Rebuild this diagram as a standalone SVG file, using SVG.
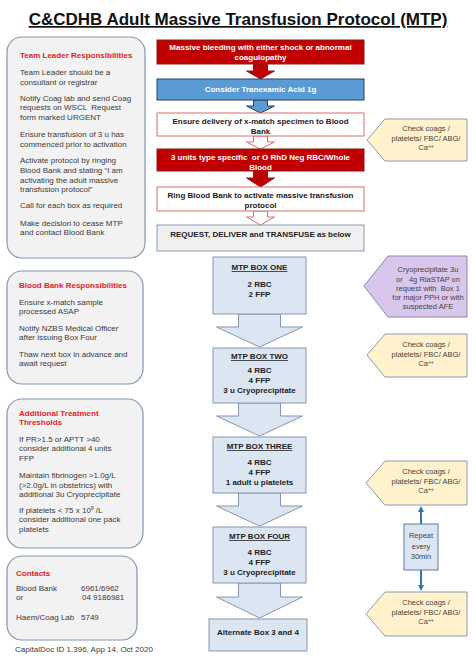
<svg xmlns="http://www.w3.org/2000/svg" width="474" height="656" viewBox="0 0 474 656">
<defs>
<style>
text{font-family:"Liberation Sans",Arial,sans-serif;white-space:pre;}
.title{font-size:17px;font-weight:bold;fill:#111;text-decoration:underline;}
.panel{fill:#f2f2f2;stroke:#8497b0;stroke-width:1.2;}
.ph{font-size:8px;font-weight:bold;fill:#e8202a;}
.pt{font-size:8px;fill:#3a3a3a;}
.red{fill:#c00000;stroke:#8b1a1a;stroke-width:1;}
.blue{fill:#5b9bd5;stroke:#2a3f66;stroke-width:1;}
.wred{fill:#ffffff;stroke:#e06a6a;stroke-width:1;}
.grey{fill:#efefef;stroke:#8a99b0;stroke-width:1;}
.wt{font-size:8px;font-weight:bold;fill:#ffffff;text-anchor:middle;}
.dt{font-size:8px;font-weight:bold;fill:#222;text-anchor:middle;}
.mtp{fill:#dce6f2;stroke:#8496b0;stroke-width:1;}
.mh{font-size:8px;font-weight:bold;fill:#222;text-anchor:middle;text-decoration:underline;}
.chk{fill:#fff2cc;stroke:#8c9bb0;stroke-width:1;}
.pur{fill:#d9c6ec;stroke:#8e86b0;stroke-width:1;}
.ct{font-size:7.5px;fill:#444;text-anchor:middle;}
.rep{fill:#dce6f2;stroke:#5b7ba8;stroke-width:1;}
.blk{stroke:#2e75b6;stroke-width:2;fill:none;}
</style>
<marker id="ah" viewBox="0 0 10 10" refX="5" refY="5" markerWidth="3" markerHeight="3" orient="auto-start-reverse">
<path d="M0,0 L10,5 L0,10 z" fill="#2e75b6"/>
</marker>
</defs>
<rect width="474" height="656" fill="#ffffff"/>
<text class="title" x="238" y="25" text-anchor="middle">C&amp;CDHB Adult Massive Transfusion Protocol (MTP)</text>

<g id="team-leader">
<rect class="panel" x="7" y="37" width="138" height="221" rx="15"/>
<text class="ph" x="20" y="58">Team Leader Responsibilities</text>
<text class="pt" x="20" y="75">Team Leader should be a</text>
<text class="pt" x="20" y="85">consultant or registrar</text>
<text class="pt" x="20" y="101">Notify Coag lab and send Coag</text>
<text class="pt" x="20" y="110" xml:space="preserve">requests on WSCL  Request</text>
<text class="pt" x="20" y="120">form marked URGENT</text>
<text class="pt" x="20" y="137">Ensure transfusion of 3 u has</text>
<text class="pt" x="20" y="147">commenced prior to activation</text>
<text class="pt" x="20" y="163">Activate protocol by ringing</text>
<text class="pt" x="20" y="173">Blood Bank and stating “I am</text>
<text class="pt" x="20" y="183">activating the adult massive</text>
<text class="pt" x="20" y="192">transfusion protocol”</text>
<text class="pt" x="20" y="208">Call for each box as required</text>
<text class="pt" x="20" y="226">Make decision to cease MTP</text>
<text class="pt" x="20" y="235">and contact Blood Bank</text>
</g>

<g id="blood-bank">
<rect class="panel" x="7" y="271" width="136" height="113" rx="15"/>
<text class="ph" x="19" y="288">Blood Bank Responsibilities</text>
<text class="pt" x="19" y="305">Ensure x-match sample</text>
<text class="pt" x="19" y="314">processed ASAP</text>
<text class="pt" x="19" y="331">Notify NZBS Medical Officer</text>
<text class="pt" x="19" y="340">after issuing Box Four</text>
<text class="pt" x="19" y="357">Thaw next box in advance and</text>
<text class="pt" x="19" y="366">await request</text>
</g>

<g id="additional-thresholds">
<rect class="panel" x="7" y="399" width="136" height="149" rx="15"/>
<text class="ph" x="19" y="416">Additional Treatment</text>
<text class="ph" x="19" y="425">Thresholds</text>
<text class="pt" x="19" y="442">If PR&gt;1.5 or APTT &gt;40</text>
<text class="pt" x="19" y="451">consider additional 4 units</text>
<text class="pt" x="19" y="461">FFP</text>
<text class="pt" x="19" y="478">Maintain fibrinogen &gt;1.0g/L</text>
<text class="pt" x="19" y="488">(&gt;2.0g/L in obstetrics) with</text>
<text class="pt" x="19" y="497">additional 3u Cryoprecipitate</text>
<text class="pt" x="19" y="513">If platelets &lt; 75 x 10<tspan font-size="5" dy="-3">9</tspan><tspan dy="3"> /L</tspan></text>
<text class="pt" x="19" y="522">consider additional one pack</text>
<text class="pt" x="19" y="532">platelets</text>
</g>

<g id="contacts">
<rect class="panel" x="7" y="556" width="130" height="84" rx="15"/>
<text class="ph" x="16" y="576">Contacts</text>
<text class="pt" x="16" y="591">Blood Bank</text>
<text class="pt" x="81" y="591">6961/6962</text>
<text class="pt" x="16" y="600">or</text>
<text class="pt" x="82" y="600">04 9186981</text>
<text class="pt" x="16" y="620">Haem/Coag Lab</text>
<text class="pt" x="81" y="620">5749</text>
</g>
<text class="pt" x="15" y="652">CapitalDoc ID 1.396, App 14, Oct 2020</text>

<g id="connectors">
<polygon class="red" points="253.5,64 267.5,64 267.5,71 274.5,71 260.5,79 246.5,71 253.5,71"/>
<polygon class="blue" points="253.5,100 267.5,100 267.5,106 274.5,106 260.5,113 246.5,106 253.5,106"/>
<polygon class="wred" points="253.5,136 267.5,136 267.5,142 274.5,142 260.5,149 246.5,142 253.5,142"/>
<polygon class="red" points="253.5,171 267.5,171 267.5,178 274.5,178 260.5,187 246.5,178 253.5,178"/>
<polygon class="wred" points="253.5,211 267.5,211 267.5,217 274.5,217 260.5,225 246.5,217 253.5,217"/>
<polygon class="mtp" points="238.5,314 280.5,314 280.5,327 302.5,327 259.5,347 216.5,327 238.5,327"/>
<polygon class="mtp" points="238.5,403 280.5,403 280.5,416 302.5,416 259.5,436 216.5,416 238.5,416"/>
<polygon class="mtp" points="238.5,493 280.5,493 280.5,506 302.5,506 259.5,526 216.5,506 238.5,506"/>
<polygon class="mtp" points="238.5,583 280.5,583 280.5,597 302.5,597 259.5,618 216.5,597 238.5,597"/>
<line class="blk" x1="421" y1="524" x2="421" y2="509" marker-end="url(#ah)"/>
<line class="blk" x1="421" y1="570" x2="421" y2="588" marker-end="url(#ah)"/>
</g>

<g id="massive-bleeding">
<rect class="red" x="157" y="40" width="207" height="24"/>
<text class="wt" x="260.5" y="50">Massive bleeding with either shock or abnormal</text>
<text class="wt" x="260.5" y="60">coagulopathy</text>
</g>
<g id="tranexamic">
<rect class="blue" x="157" y="79" width="207" height="21"/>
<text class="wt" x="260.5" y="92">Consider Tranexamic Acid 1g</text>
</g>
<g id="xmatch">
<rect class="wred" x="157" y="113" width="207" height="23"/>
<text class="dt" x="260.5" y="124">Ensure delivery of x-match specimen to Blood</text>
<text class="dt" x="260.5" y="134">Bank</text>
</g>
<g id="three-units">
<rect class="red" x="157" y="149" width="207" height="22"/>
<text class="wt" x="260.5" y="160" xml:space="preserve">3 units type specific  or O RhD Neg RBC/Whole</text>
<text class="wt" x="260.5" y="170">Blood</text>
</g>
<g id="ring-blood-bank">
<rect class="wred" x="157" y="187" width="207" height="24"/>
<text class="dt" x="260.5" y="198">Ring Blood Bank to activate massive transfusion</text>
<text class="dt" x="260.5" y="208">protocol</text>
</g>
<g id="request">
<rect class="grey" x="157" y="225" width="207" height="26"/>
<text class="dt" x="260.5" y="237">REQUEST, DELIVER and TRANSFUSE as below</text>
</g>

<g id="box-one">
<rect class="mtp" x="213" y="257" width="93" height="57"/>
<text class="mh" x="259.5" y="270">MTP BOX ONE</text>
<text class="dt" x="259.5" y="287">2 RBC</text>
<text class="dt" x="259.5" y="297">2 FFP</text>
</g>
<g id="box-two">
<rect class="mtp" x="213" y="348" width="93" height="55"/>
<text class="mh" x="259.5" y="359">MTP BOX TWO</text>
<text class="dt" x="259.5" y="373">4 RBC</text>
<text class="dt" x="259.5" y="383">4 FFP</text>
<text class="dt" x="259.5" y="393">3 u Cryoprecipitate</text>
</g>
<g id="box-three">
<rect class="mtp" x="213" y="437" width="93" height="56"/>
<text class="mh" x="259.5" y="449">MTP BOX THREE</text>
<text class="dt" x="259.5" y="465">4 RBC</text>
<text class="dt" x="259.5" y="475">4 FFP</text>
<text class="dt" x="259.5" y="485">1 adult u platelets</text>
</g>
<g id="box-four">
<rect class="mtp" x="213" y="527" width="93" height="56"/>
<text class="mh" x="259.5" y="539">MTP BOX FOUR</text>
<text class="dt" x="259.5" y="555">4 RBC</text>
<text class="dt" x="259.5" y="565">4 FFP</text>
<text class="dt" x="259.5" y="575">3 u Cryoprecipitate</text>
</g>
<g id="alternate">
<rect class="mtp" x="209" y="619" width="98" height="32"/>
<text class="dt" x="258" y="635">Alternate Box 3 and 4</text>
</g>

<g id="check-1">
<polygon class="chk" points="385,119 467,119 467,161 385,161 367,140"/>
<text class="ct" x="426" y="131">Check coags /</text>
<text class="ct" x="426" y="141">platelets/ FBC/ ABG/</text>
<text class="ct" x="426" y="150">Ca<tspan font-size="5" dy="-2.5">++</tspan></text>
</g>
<g id="cryo-note">
<polygon class="pur" points="388,256 467,256 467,317 388,317 364,286"/>
<text class="ct" x="428" y="272">Cryoprecipitate 3u</text>
<text class="ct" x="428" y="282" xml:space="preserve">or   4g RiaSTAP on</text>
<text class="ct" x="428" y="291" xml:space="preserve">request with  Box 1</text>
<text class="ct" x="428" y="300">for major PPH or with</text>
<text class="ct" x="428" y="309">suspected AFE</text>
</g>
<g id="check-2">
<polygon class="chk" points="385,334 467,334 467,377 385,377 367,355"/>
<text class="ct" x="426" y="347">Check coags /</text>
<text class="ct" x="426" y="357">platelets/ FBC/ ABG/</text>
<text class="ct" x="426" y="366">Ca<tspan font-size="5" dy="-2.5">++</tspan></text>
</g>
<g id="check-3">
<polygon class="chk" points="385,461 467,461 467,505 385,505 366,483"/>
<text class="ct" x="426" y="474">Check coags /</text>
<text class="ct" x="426" y="484">platelets/ FBC/ ABG/</text>
<text class="ct" x="426" y="493">Ca<tspan font-size="5" dy="-2.5">++</tspan></text>
</g>
<g id="repeat">
<rect class="rep" x="404" y="524" width="34" height="46"/>
<text class="ct" x="421" y="538">Repeat</text>
<text class="ct" x="421" y="549">every</text>
<text class="ct" x="421" y="559">30min</text>
</g>
<g id="check-4">
<polygon class="chk" points="385,592 467,592 467,636 385,636 366,614"/>
<text class="ct" x="426" y="605">Check coags /</text>
<text class="ct" x="426" y="615">platelets/ FBC/ ABG/</text>
<text class="ct" x="426" y="624">Ca<tspan font-size="5" dy="-2.5">++</tspan></text>
</g>
</svg>
